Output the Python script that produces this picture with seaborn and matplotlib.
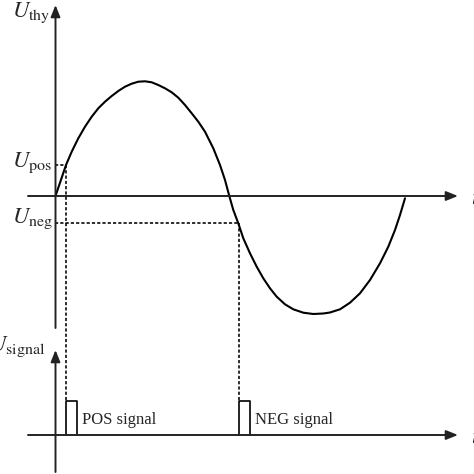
import matplotlib
matplotlib.use('Agg')
import matplotlib.pyplot as plt
import seaborn as sns

# thyristor voltage curve (x: time from origin, y: voltage)
wave_t = [0, 10.5, 16.2, 22.8, 29.5, 36.2, 42.8, 49.5, 56.2, 62.8, 69.5, 76.2, 82.8,
          89.5, 96.2, 102.8, 109.5, 116.2, 122.8, 129.5, 136.2, 142.8, 149.5, 157.8,
          164.5, 169.5, 173.8, 177.8, 182.8, 187.8, 194.5, 201.2, 207.8, 214.5, 221.2,
          229.5, 237.8, 247.8, 257.8, 267.8, 274.5, 284.5, 294.5, 304.5, 314.5, 324.5,
          332.8, 339.5, 344.5, 349.5]
wave_u = [0, 31, 44.3, 57.7, 69.3, 79.3, 87.7, 94.3, 100, 105, 109.3, 112.3, 114.3,
          114.7, 113.7, 111, 107.7, 103.7, 98.3, 91, 82.7, 74.3, 64.3, 47.7,
          31, 16, 0, -14, -27.3, -42.3, -57.3, -70.7, -82.3, -92.3, -100.7,
          -108.3, -113.3, -116.7, -118, -117.5, -116.5, -113.3, -106.7, -97.3, -84, -67.3,
          -50.7, -34, -19, -2.3]

# trigger levels and the moments they are crossed
u_pos = 31
u_neg = -27.3
t_pos = 10.5
t_neg = 183.2

# signal pulses
pulse_start = [t_pos, t_neg]
pulse_width = [11, 11]
pulse_height = [34, 34]
pulse_names = ['POS signal', 'NEG signal']
signal_base = -239

sns.set_theme(style='white')
plt.rcParams['font.family'] = ['Liberation Serif', 'DejaVu Serif']
plt.rcParams['mathtext.fontset'] = 'stix'

fig = plt.figure(figsize=(4.74, 4.74), dpi=100)
ax = fig.add_axes([0, 0, 1, 1])
ax.set_xlim(-55.5, 418.5)
ax.set_ylim(-278, 196)
ax.axis('off')

arrow = dict(arrowstyle='-|>,head_length=0.7,head_width=0.28', color='#222222', lw=1.4,
             shrinkA=0, shrinkB=0, mutation_scale=10)

#axes of the upper (voltage) plot
ax.annotate('', xy=(0, 191), xytext=(0, -132), arrowprops=arrow)
ax.annotate('', xy=(402.5, 0), xytext=(-27.5, 0), arrowprops=arrow)
#axes of the lower (signal) plot
ax.annotate('', xy=(0, -154), xytext=(0, -276), arrowprops=arrow)
ax.annotate('', xy=(402.5, signal_base), xytext=(-27.5, signal_base), arrowprops=arrow)

sns.lineplot(x=wave_t, y=wave_u, sort=False, estimator=None, color='black', lw=1.5, ax=ax)

# dashed guide lines
dash = dict(color='black', lw=1.15, ls=(0, (2.0, 1.3)))
ax.plot([0, t_pos], [u_pos, u_pos], **dash)
ax.plot([t_pos, t_pos], [u_pos, signal_base + pulse_height[0]], **dash)
ax.plot([0, t_neg], [u_neg, u_neg], **dash)
ax.plot([t_neg, t_neg], [u_neg, signal_base + pulse_height[1]], **dash)

for s, w, h, name in zip(pulse_start, pulse_width, pulse_height, pulse_names):
    sns.lineplot(x=[s, s, s + w, s + w], y=[signal_base, signal_base + h, signal_base + h, signal_base],
                 sort=False, estimator=None, color='black', lw=1.2, ax=ax)
    ax.text(s + w + 5, signal_base + 11, name, fontsize=12, ha='left', va='baseline')

ax.text(-44, 179, r'$U_{\mathrm{thy}}$', fontsize=16.5, ha='left', va='baseline')
ax.text(-44, 29, r'$U_{\mathrm{pos}}$', fontsize=16.5, ha='left', va='baseline')
ax.text(-44, -27, r'$U_{\mathrm{neg}}$', fontsize=16.5, ha='left', va='baseline')
ax.text(-67, -155, r'$U_{\mathrm{signal}}$', fontsize=16.5, ha='left', va='baseline')
ax.text(416, -8, r'$t$', fontsize=16.5, ha='left', va='baseline')
ax.text(416, signal_base - 8, r'$t$', fontsize=16.5, ha='left', va='baseline')

fig.savefig('out.png', dpi=100)
